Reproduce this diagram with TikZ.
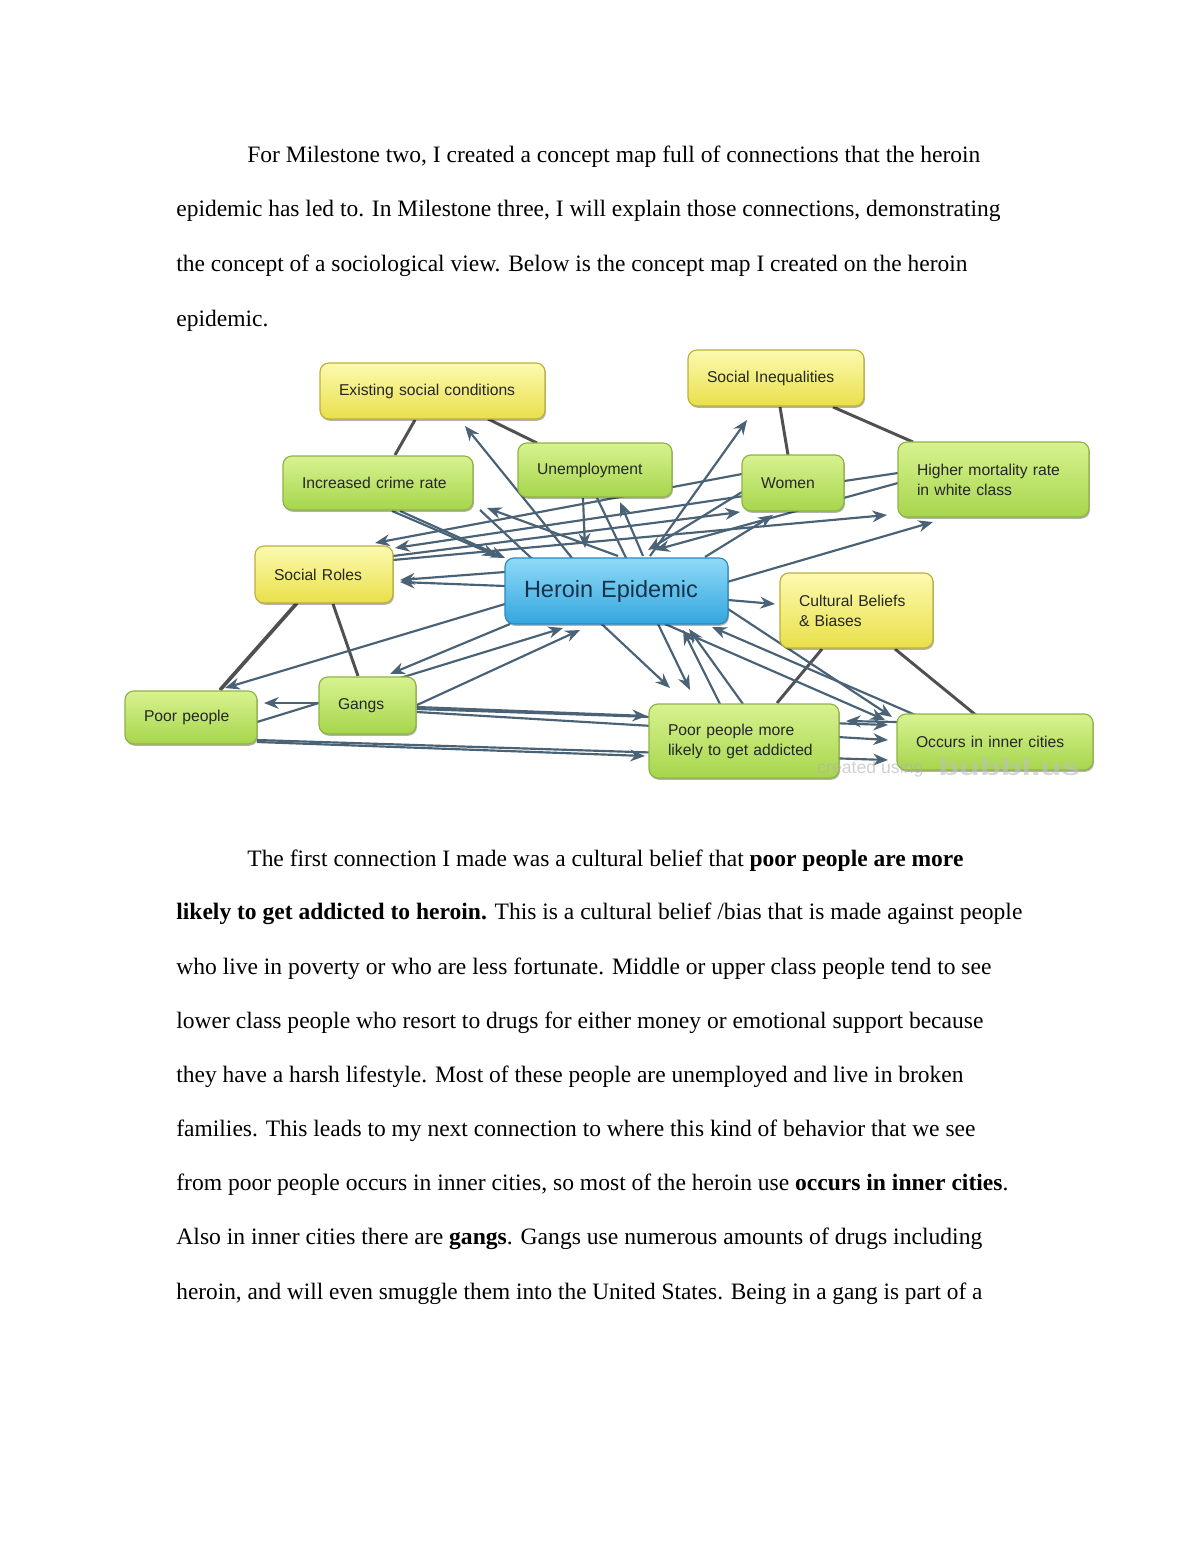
\documentclass[tikz,border=0pt]{standalone}
\usepackage{fontspec}
\usepackage{graphicx}
\setmainfont{Liberation Serif}
\newfontfamily\mapfont{Liberation Sans}
\usetikzlibrary{arrows.meta,calc,shadows}
\newlength\pxu \setlength\pxu{0.51pt}
\definecolor{ytop}{HTML}{FCFAB0}
\definecolor{ybot}{HTML}{E9E04A}
\definecolor{ybord}{HTML}{BDB03A}
\definecolor{gtop}{HTML}{D8F290}
\definecolor{gbot}{HTML}{A6D64C}
\definecolor{gbord}{HTML}{8DB444}
\definecolor{btop}{HTML}{8FDAF7}
\definecolor{bbot}{HTML}{33A6DE}
\definecolor{bbord}{HTML}{2E88BF}
\definecolor{edgec}{HTML}{4A6275}
\definecolor{linkc}{HTML}{505050}
\definecolor{maptext}{HTML}{262626}
\definecolor{herotext}{HTML}{17324A}
\pgfdeclarelayer{back}
\pgfdeclarelayer{edges}
\pgfsetlayers{back,edges,main}
\tikzset{
  bodyline/.style={anchor=base west, inner sep=0pt, font=\fontsize{12pt}{14pt}\selectfont},
  mapbox/.style={rounded corners=4.5pt, line width=0.6pt, align=left, inner xsep=19\pxu, inner ysep=1pt,
    font=\mapfont\fontsize{8pt}{10.2pt}\selectfont, text=maptext,
    drop shadow={shadow xshift=0.5pt, shadow yshift=-0.9pt, opacity=0.3, fill=black}},
  ybox/.style={mapbox, draw=ybord, top color=ytop, bottom color=ybot},
  gbox/.style={mapbox, draw=gbord, top color=gtop, bottom color=gbot},
  bbox/.style={mapbox, draw=bbord, top color=btop, bottom color=bbot,
    font=\mapfont\fontsize{12pt}{14pt}\selectfont, text=herotext},
  arr/.style={draw=edgec, line width=1.1pt, -{Stealth[length=7.5pt,width=6pt]}},
  lnk/.style={draw=linkc, line width=1.5pt},
}
\begin{document}
\begin{tikzpicture}[x=0.51pt, y=-0.51pt]
\useasboundingbox (0,0) rectangle (1200,1553);
\begin{pgfonlayer}{back}
\fill[white] (0,0) rectangle (1200,1553);
\end{pgfonlayer}

% ---------- body text ----------
\node[bodyline] (l1) at (247,163) {\resizebox{733\pxu}{\height}{For Milestone two, I created a concept map full of connections that the heroin}};
\node[bodyline] (l2) at (176,217) {\resizebox{824\pxu}{\height}{epidemic has led to. In Milestone three, I will explain those connections, demonstrating}};
\node[bodyline] (l3) at (176,271) {\resizebox{791\pxu}{\height}{the concept of a sociological view. Below is the concept map I created on the heroin}};
\node[bodyline] (l4) at (176,326) {epidemic.};

\node[bodyline] (l5) at (247,866) {\resizebox{716\pxu}{\height}{The first connection I made was a cultural belief that \textbf{poor people are more}}};
\node[bodyline] (l6) at (176,919) {\resizebox{846\pxu}{\height}{\textbf{likely to get addicted to heroin.} This is a cultural belief /bias that is made against people}};
\node[bodyline] (l7) at (176,974) {\resizebox{815\pxu}{\height}{who live in poverty or who are less fortunate. Middle or upper class people tend to see}};
\node[bodyline] (l8) at (176,1028) {\resizebox{807\pxu}{\height}{lower class people who resort to drugs for either money or emotional support because}};
\node[bodyline] (l9) at (176,1082) {\resizebox{787\pxu}{\height}{they have a harsh lifestyle. Most of these people are unemployed and live in broken}};
\node[bodyline] (l10) at (176,1136) {\resizebox{799\pxu}{\height}{families. This leads to my next connection to where this kind of behavior that we see}};
\node[bodyline] (l11) at (176,1190) {\resizebox{832\pxu}{\height}{from poor people occurs in inner cities, so most of the heroin use \textbf{occurs in inner cities}.}};
\node[bodyline] (l12) at (176,1244) {\resizebox{806\pxu}{\height}{Also in inner cities there are \textbf{gangs}. Gangs use numerous amounts of drugs including}};
\node[bodyline] (l13) at (176,1299) {\resizebox{806\pxu}{\height}{heroin, and will even smuggle them into the United States. Being in a gang is part of a}};

% ---------- concept map nodes ----------
\node[ybox, text width=187\pxu, minimum height=56\pxu] (ESC) at (432.5,391) {Existing social conditions};
\node[ybox, text width=138\pxu, minimum height=56\pxu] (SI) at (776,378) {Social Inequalities};
\node[gbox, text width=152\pxu, minimum height=54\pxu] (ICR) at (378,483) {Increased crime rate};
\node[gbox, text width=116\pxu, minimum height=54\pxu] (UN) at (595,470) {Unemployment};
\node[gbox, text width=64\pxu, minimum height=56\pxu] (WO) at (793,483) {Women};
\node[gbox, text width=153\pxu, minimum height=75\pxu] (HM) at (993.5,479.5) {Higher mortality rate\\in white class};
\node[ybox, text width=100\pxu, minimum height=57\pxu] (SR) at (324,574.5) {Social Roles};
\node[bbox, text width=185\pxu, minimum height=66\pxu] (H) at (616.5,591) {Heroin Epidemic};
\node[ybox, text width=115\pxu, minimum height=75\pxu] (CB) at (856.5,610.5) {Cultural Beliefs\\\& Biases};
\node[gbox, text width=94\pxu, minimum height=53\pxu] (PP) at (191,717.5) {Poor people};
\node[gbox, text width=59\pxu, minimum height=57\pxu] (GA) at (367.5,705.5) {Gangs};
\node[gbox, text width=152\pxu, minimum height=74\pxu] (PPM) at (744,741) {Poor people more\\likely to get addicted};
\node[gbox, text width=158\pxu, minimum height=56\pxu] (OIC) at (995,742) {Occurs in inner cities};

% ---------- connectors ----------
\begin{pgfonlayer}{edges}
% plain links
\draw[lnk] ($(ESC)+(-17.5,29)$) -- ($(ICR)+(17,-28)$);
\draw[lnk] ($(ESC)+(55.5,28)$) -- ($(UN)+(-58,-27)$);
\draw[lnk] ($(SI)+(4,29)$) -- ($(WO)+(-5,-28)$);
\draw[lnk] ($(SI)+(57,29)$) -- ($(HM)+(-80.5,-37.5)$);
\draw[lnk, line width=1.9pt] ($(SR)+(-27,28.5)$) -- ($(PP)+(29,-27.5)$);
\draw[lnk] ($(SR)+(9,29.5)$) -- ($(GA)+(-9.5,-29.5)$);
\draw[lnk] ($(CB)+(-34.5,38.5)$) -- ($(PPM)+(33,-38)$);
\draw[lnk] ($(CB)+(38.5,38.5)$) -- ($(OIC)+(-18,-26)$);
% arrows
\draw[arr] ($(H)+(-44.5,-33)$) -- ($(ESC)+(32.5,35)$);
\draw[arr] ($(ICR)+(14,28)$) -- ($(H)+(-119.5,-35)$);
\draw[arr] ($(ICR)+(22,28)$) -- ($(H)+(-111.5,-33)$);
\draw[arr] ($(H)+(1.5,-35)$) -- ($(ICR)+(109,25)$);
\draw[arr] ($(ICR)+(102,27)$) -- ($(PPM)+(-74,-53)$);
\draw[arr] ($(UN)+(-12,28)$) -- ($(H)+(-31.5,-43)$);
\draw[arr] ($(UN)+(2,28)$) -- ($(PPM)+(-54,-51)$);
\draw[arr] ($(H)+(26.5,-35)$) -- ($(UN)+(25,32)$);
\draw[arr] ($(H)+(33.5,-35)$) -- ($(SI)+(-29,42)$);
\draw[arr] ($(WO)+(-51,9)$) -- ($(H)+(31.5,-41)$);
\draw[arr] ($(HM)+(-95.5,3.5)$) -- ($(H)+(38.5,-41)$);
\draw[arr] ($(H)+(88.5,-34)$) -- ($(WO)+(-20,32)$);
\draw[arr] ($(H)+(110.5,-9)$) -- ($(HM)+(-60.5,42.5)$);
\draw[arr] ($(WO)+(-51,-9)$) -- ($(SR)+(51,-31.5)$);
\draw[arr] ($(HM)+(-95.5,-6.5)$) -- ($(SR)+(71,-26.5)$);
\draw[arr] ($(SR)+(69,-18.5)$) -- ($(WO)+(-53,29)$);
\draw[arr] ($(SR)+(69,-14.5)$) -- ($(HM)+(-106.5,35.5)$);
\draw[arr] ($(H)+(-111.5,-19)$) -- ($(SR)+(76,5.5)$);
\draw[arr] ($(H)+(-111.5,-5)$) -- ($(SR)+(76,7.5)$);
\draw[arr] ($(H)+(-111.5,13)$) -- ($(PP)+(34,-29.5)$);
\draw[arr] ($(H)+(-106.5,33)$) -- ($(GA)+(22.5,-31.5)$);
\draw[arr] ($(PP)+(66,4.5)$) -- ($(H)+(-53.5,37)$);
\draw[arr] ($(GA)+(49.5,-0.5)$) -- ($(H)+(-36.5,39)$);
\draw[arr] ($(GA)+(-48.5,-2.5)$) -- ($(PP)+(73,-14.5)$);
\draw[arr] ($(PP)+(66,24.5)$) -- ($(PPM)+(-99,15)$);
\draw[arr] ($(GA)+(49.5,1.5)$) -- ($(PPM)+(-97,-25)$);
\draw[arr] ($(GA)+(49.5,3.5)$) -- ($(OIC)+(-107,-17)$);
\draw[arr] ($(GA)+(49.5,6.5)$) -- ($(OIC)+(-107,-2)$);
\draw[arr] ($(PP)+(66,22.5)$) -- ($(OIC)+(-107,18)$);
\draw[arr] ($(OIC)+(-98,-20)$) -- ($(PPM)+(102,-20)$);
\draw[arr] ($(PPM)+(-24,-37)$) -- ($(H)+(66.5,39)$);
\draw[arr] ($(PPM)+(-1,-37)$) -- ($(H)+(72.5,38)$);
\draw[arr] ($(OIC)+(-75,-25)$) -- ($(H)+(95.5,36)$);
\draw[arr] ($(H)+(48.5,33)$) -- ($(OIC)+(-110,-22)$);
\draw[arr] ($(H)+(111.5,18)$) -- ($(OIC)+(-103,-25)$);
\draw[arr] ($(H)+(111.5,9)$) -- ($(CB)+(-81.5,-6.5)$);
\end{pgfonlayer}

% ---------- watermark ----------
\node[anchor=base west, inner sep=0pt, text=black!30, opacity=0.6, font=\mapfont\fontsize{9pt}{11pt}\selectfont] (wm1) at (817,773) {created using};
\node[anchor=base west, inner sep=0pt, text=black!25, opacity=0.6, font=\mapfont\bfseries\fontsize{12pt}{14pt}\selectfont] (wm2) at (938,775) {\resizebox{142\pxu}{\height}{bubbl.us}};
\end{tikzpicture}
\end{document}
